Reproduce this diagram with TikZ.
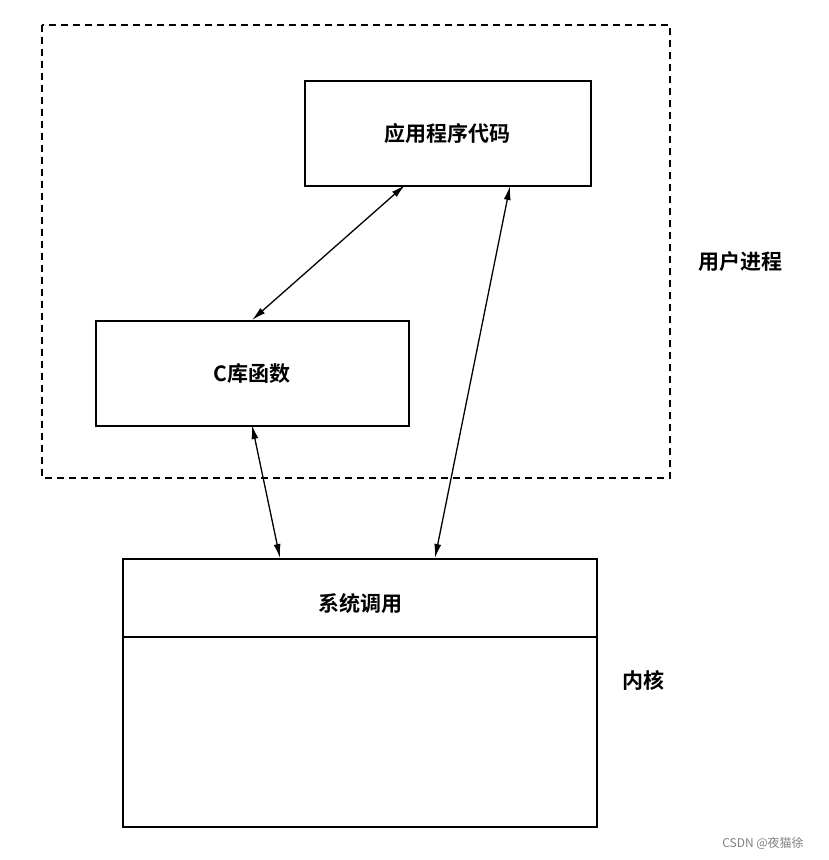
\documentclass[tikz,border=0pt]{standalone}
\usepackage{fontspec}
\setmainfont{Noto Sans CJK SC}[BoldFont={Noto Sans CJK SC Bold}]
\usetikzlibrary{arrows.meta}
\begin{document}
\begin{tikzpicture}[x=1pt,y=-1pt,
  box/.style={draw,line width=1.6pt},
  lbl/.style={font=\fontsize{21}{25}\selectfont\bfseries},
  conn/.style={line width=1.3pt,{Latex[length=14pt,width=7pt]}-{Latex[length=14pt,width=7pt]}}]
\useasboundingbox (0,0) rectangle (828,860);
\draw[line width=1.3pt,dash pattern=on 7pt off 5pt] (42,25) rectangle (670,478);
\node[box,minimum width=286pt,minimum height=105pt,anchor=north west] (app) at (304,80) {};
\node[lbl] at (app.center) {应用程序代码};
\node[box,minimum width=313pt,minimum height=105pt,anchor=north west] (clib) at (95,320) {};
\node[lbl] at (clib.center) {C库函数};
\node[box,minimum width=474pt,minimum height=268pt,anchor=north west] (sys) at (122,558) {};
\draw[line width=1.6pt] (122,637) -- (596,637);
\node[lbl] at (360,603) {系统调用};
\node[lbl] at (740,262) {用户进程};
\node[lbl] at (643,680) {内核};
\node[font=\fontsize{12}{14}\selectfont,text=gray] at (763,843) {CSDN @夜猫徐};
\coordinate (a1) at (405,185); \coordinate (c1) at (252,320);
\coordinate (a2) at (510,186); \coordinate (s2) at (435,558);
\coordinate (c3) at (252,425); \coordinate (s3) at (280,558);
\draw[conn] (a1) -- (c1);
\draw[conn] (a2) -- (s2);
\draw[conn] (c3) -- (s3);
\end{tikzpicture}
\end{document}
